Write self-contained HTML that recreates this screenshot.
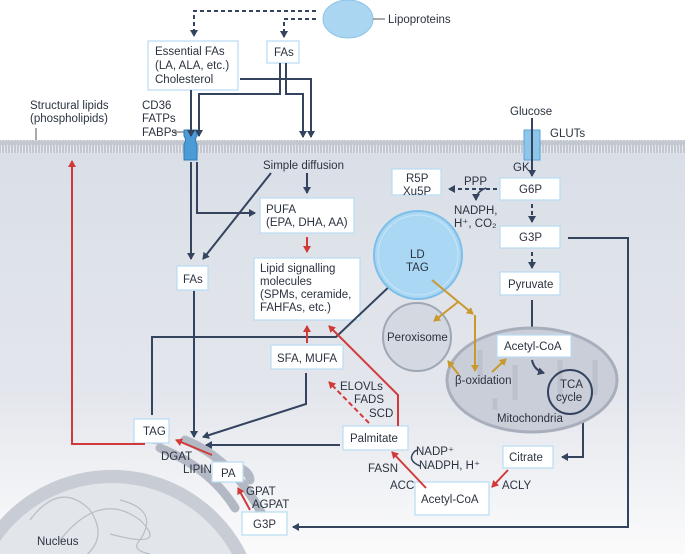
<!DOCTYPE html>
<html><head><meta charset="utf-8"><style>
html,body{margin:0;padding:0;background:#fff;width:685px;height:554px;overflow:hidden}
svg{display:block}
text{font-family:"Liberation Sans",sans-serif;font-size:11.5px;fill:#2b3340}
</style></head><body>
<svg width="685" height="554" viewBox="0 0 685 554" xmlns="http://www.w3.org/2000/svg" overflow="hidden">
<defs>
<linearGradient id="cell" x1="0" y1="0" x2="0" y2="1">
<stop offset="0" stop-color="#dadfe7"/><stop offset="0.6" stop-color="#e3e6ec"/><stop offset="1" stop-color="#fbfbfc"/></linearGradient>
<pattern id="mem" width="3" height="13" patternUnits="userSpaceOnUse"><rect width="3" height="13" fill="#c3c8d0"/><rect x="1" y="2" width="1" height="9" fill="#e6e9ee"/></pattern>
<marker id="ab" markerWidth="8" markerHeight="8" refX="6" refY="4" orient="auto" markerUnits="userSpaceOnUse"><path d="M0,0 L7,4 L0,8 z" fill="#34435e"/></marker>
<marker id="ar" markerWidth="8" markerHeight="8" refX="6" refY="4" orient="auto" markerUnits="userSpaceOnUse"><path d="M0,0 L7,4 L0,8 z" fill="#d23a3a"/></marker>
<marker id="ag" markerWidth="8" markerHeight="8" refX="6" refY="4" orient="auto" markerUnits="userSpaceOnUse"><path d="M0,0 L7,4 L0,8 z" fill="#c9982e"/></marker>
</defs>
<rect x="0" y="150" width="685" height="404" fill="url(#cell)"/>
<rect x="0" y="140" width="685" height="13" fill="url(#mem)"/>

<path d="M0,554 L0,520 A150,150 0 0 1 246.7,554 Z" fill="#c8ccd4"/>
<path d="M0,554 L0,541 A137,137 0 0 1 232,554 Z" fill="#e2e5ea"/>
<g fill="none" stroke="#b8bdc7" stroke-width="1.2">
<path d="M30,520 q30,-40 60,-10 q20,30 -10,50 M60,540 q40,-50 80,-20 q30,30 -30,14 M120,500 q40,10 20,40 q-10,10 10,14"/>
</g>
<g fill="none" stroke="#b3b9c4" stroke-width="9" stroke-linecap="round">
<path d="M160,448 q50,20 75,60"/><path d="M185,440 q50,20 80,80"/><path d="M240,468 q10,5 10,12"/><path d="M140,438 l20,2"/>
</g>
<text x="37" y="545">Nucleus</text>

<ellipse cx="348" cy="19" rx="25" ry="19" fill="#aad6f2" stroke="#8cc4e8"/>
<line x1="373" y1="19" x2="385" y2="19" stroke="#555"/>
<text x="388" y="23">Lipoproteins</text>
<g stroke="#34435e" stroke-width="2" fill="none" stroke-dasharray="4,3">
<path d="M316,11 H194 V36" marker-end="url(#ab)"/>
<path d="M316,19 H284 V37" marker-end="url(#ab)"/>
</g>

<g fill="#fff" stroke="#b9dcf2" stroke-width="1.2">
<rect x="148" y="41" width="90" height="49"/>
<rect x="267" y="41" width="32" height="22"/>
<rect x="260" y="198" width="94" height="35"/>
<rect x="254" y="258" width="106" height="62"/>
<rect x="177" y="266" width="31" height="24"/>
<rect x="392" y="169" width="49" height="26"/>
<rect x="500" y="178" width="60" height="22"/>
<rect x="500" y="226" width="60" height="22"/>
<rect x="500" y="272" width="60" height="23"/>
<rect x="271" y="345" width="72" height="24"/>
<rect x="134" y="419" width="35" height="24"/>
<rect x="343" y="426" width="65" height="24"/>
<rect x="212" y="462" width="31" height="20"/>
<rect x="242" y="512" width="45" height="23"/>
<rect x="503" y="446" width="50" height="22"/>
<rect x="415" y="482" width="74" height="33"/>
</g>
<text x="155" y="55">Essential FAs</text><text x="155" y="69">(LA, ALA, etc.)</text><text x="155" y="83">Cholesterol</text>
<text x="274" y="56">FAs</text>
<text x="30" y="109">Structural lipids</text><text x="30" y="122">(phospholipids)</text>
<line x1="36" y1="128" x2="36" y2="140" stroke="#555"/>
<text x="142" y="109">CD36</text><text x="142" y="122">FATPs</text><text x="142" y="136">FABPs</text>
<line x1="174" y1="132" x2="185" y2="132" stroke="#555"/>
<path d="M184,130 h13 v6 q-3,4 0,8 v16 h-13 v-16 q3,-4 0,-8z" fill="#4a9bd6" stroke="#2f79b5"/>
<text x="510" y="115">Glucose</text><text x="550" y="137">GLUTs</text>
<path d="M524,130 h16 v30 h-16z" fill="#8ec6ea" stroke="#5aa5d8"/>
<text x="513" y="171">GK</text>

<g stroke="#34435e" stroke-width="2" fill="none">
<path d="M191,90 V136" marker-end="url(#ab)"/>
<path d="M280,63 V94 H199 V136" marker-end="url(#ab)"/>
<path d="M286,63 V94 H303 V137" marker-end="url(#ab)"/>
<path d="M240,79 H311 V137" marker-end="url(#ab)"/>
<path d="M532,118 V176" marker-end="url(#ab)"/>
<path d="M191,162 V259" marker-end="url(#ab)"/>
<path d="M197,162 V213 H255" marker-end="url(#ab)"/>
<path d="M307,173 V193" marker-end="url(#ab)"/>
<path d="M271,173 L203,259" marker-end="url(#ab)"/>
<path d="M568,238 H628 V527 H293" marker-end="url(#ab)"/>
<path d="M532,300 V333" marker-end="url(#ab)"/>
<path d="M583,405 V457 H562" marker-end="url(#ab)"/>
<path d="M306,373 V404 L203,437" marker-end="url(#ab)"/>
<path d="M152,415 V337 H336 L393,283" marker-end="url(#ab)"/>
<path d="M340,445 H206" marker-end="url(#ab)"/>
<path d="M194,291 V437" marker-end="url(#ab)"/>
</g>
<g stroke="#34435e" stroke-width="2" fill="none" stroke-dasharray="4,3">
<path d="M497,189 H449" marker-end="url(#ab)"/>
<path d="M532,204 V222" marker-end="url(#ab)"/>
<path d="M532,252 V268" marker-end="url(#ab)"/>
</g>
<path d="M486,188 q-10,4 -10,12" stroke="#34435e" stroke-width="1.6" fill="none" marker-end="url(#ab)"/>
<text x="263" y="169">Simple diffusion</text>
<text x="266" y="213">PUFA</text><text x="266" y="226">(EPA, DHA, AA)</text>
<text x="260" y="272">Lipid signalling</text><text x="260" y="285">molecules</text><text x="260" y="298">(SPMs, ceramide,</text><text x="260" y="311">FAHFAs, etc.)</text>
<text x="183" y="283">FAs</text>
<text x="406" y="182">R5P</text><text x="403" y="195">Xu5P</text>
<text x="464" y="185">PPP</text>
<text x="454" y="214">NADPH,</text><text x="454" y="227">H⁺, CO₂</text>
<text x="519" y="193">G6P</text><text x="519" y="241">G3P</text><text x="508" y="288">Pyruvate</text>

<circle cx="418" cy="255" r="44" fill="#a9d7f4" stroke="#7dbfe8" stroke-width="2"/>
<circle cx="418" cy="255" r="40" fill="none" stroke="#c9e6f8"/>
<text x="410" y="258">LD</text><text x="406" y="271">TAG</text>
<ellipse cx="417" cy="337" rx="34" ry="34" fill="#d4d8e0" stroke="#9fa7b5" stroke-width="2"/>
<text x="387" y="341">Peroxisome</text>
<ellipse cx="532" cy="380" rx="85" ry="52" fill="#c9ced8" stroke="#a8aebb" stroke-width="3"/>
<g stroke="#bcc2cd" stroke-width="5" fill="none"><path d="M480,350 v30 M515,365 v35 M560,360 v40 M595,360 v35 M495,410 v-12"/></g>
<rect x="497" y="335" width="74" height="22" fill="#fff" stroke="#b9dcf2" stroke-width="1.2"/>
<text x="504" y="350">Acetyl-CoA</text>
<text x="455" y="384">β-oxidation</text>
<circle cx="570" cy="392" r="22" fill="none" stroke="#34435e" stroke-width="2"/>
<path d="M532,360 q2,10 12,13" stroke="#34435e" stroke-width="2" fill="none" marker-end="url(#ab)"/>
<text x="560" y="388">TCA</text><text x="556" y="401">cycle</text>
<text x="497" y="422">Mitochondria</text>
<g stroke="#c9982e" stroke-width="2" fill="none">
<path d="M432,280 L473,314" marker-end="url(#ag)"/>
<path d="M458,302 L434,321" marker-end="url(#ag)"/>
<path d="M475,315 V371" marker-end="url(#ag)"/>
<path d="M459,375 L448,361" marker-end="url(#ag)"/>
<path d="M492,372 L506,359" marker-end="url(#ag)"/>
</g>

<g stroke="#d23a3a" stroke-width="2" fill="none">
<path d="M145,444 H72 V161" marker-end="url(#ar)"/>
<path d="M307,237 V252" marker-end="url(#ar)"/>
<path d="M307,343 V326" marker-end="url(#ar)"/>
<path d="M398,426 V395 L329,326" marker-end="url(#ar)"/>
<path d="M212,455 L176,440" marker-end="url(#ar)"/>
<path d="M250,510 L238,488" marker-end="url(#ar)"/>
<path d="M508,470 L492,487" marker-end="url(#ar)"/>
<path d="M426,488 L392,452" marker-end="url(#ar)"/>
</g>
<path d="M369,423 L329,382" stroke="#d23a3a" stroke-width="2" stroke-dasharray="5,3" fill="none" marker-end="url(#ar)"/>
<path d="M420,466 q-14,-6 -5,-15 l3,-1" stroke="#34435e" stroke-width="1.5" fill="none"/>
<text x="340" y="390">ELOVLs</text><text x="354" y="403">FADS</text><text x="369" y="417">SCD</text>
<text x="277" y="362">SFA, MUFA</text>
<text x="143" y="435">TAG</text>
<text x="350" y="442">Palmitate</text>
<text x="161" y="460">DGAT</text><text x="183" y="473">LIPIN</text>
<text x="221" y="477">PA</text>
<text x="246" y="495">GPAT</text><text x="252" y="508">AGPAT</text>
<text x="253" y="528">G3P</text>
<text x="416" y="455">NADP⁺</text><text x="419" y="469">NADPH, H⁺</text>
<text x="368" y="472">FASN</text><text x="390" y="489">ACC</text>
<text x="509" y="461">Citrate</text>
<text x="502" y="489">ACLY</text>
<text x="421" y="503">Acetyl-CoA</text>
</svg>
</body></html>
